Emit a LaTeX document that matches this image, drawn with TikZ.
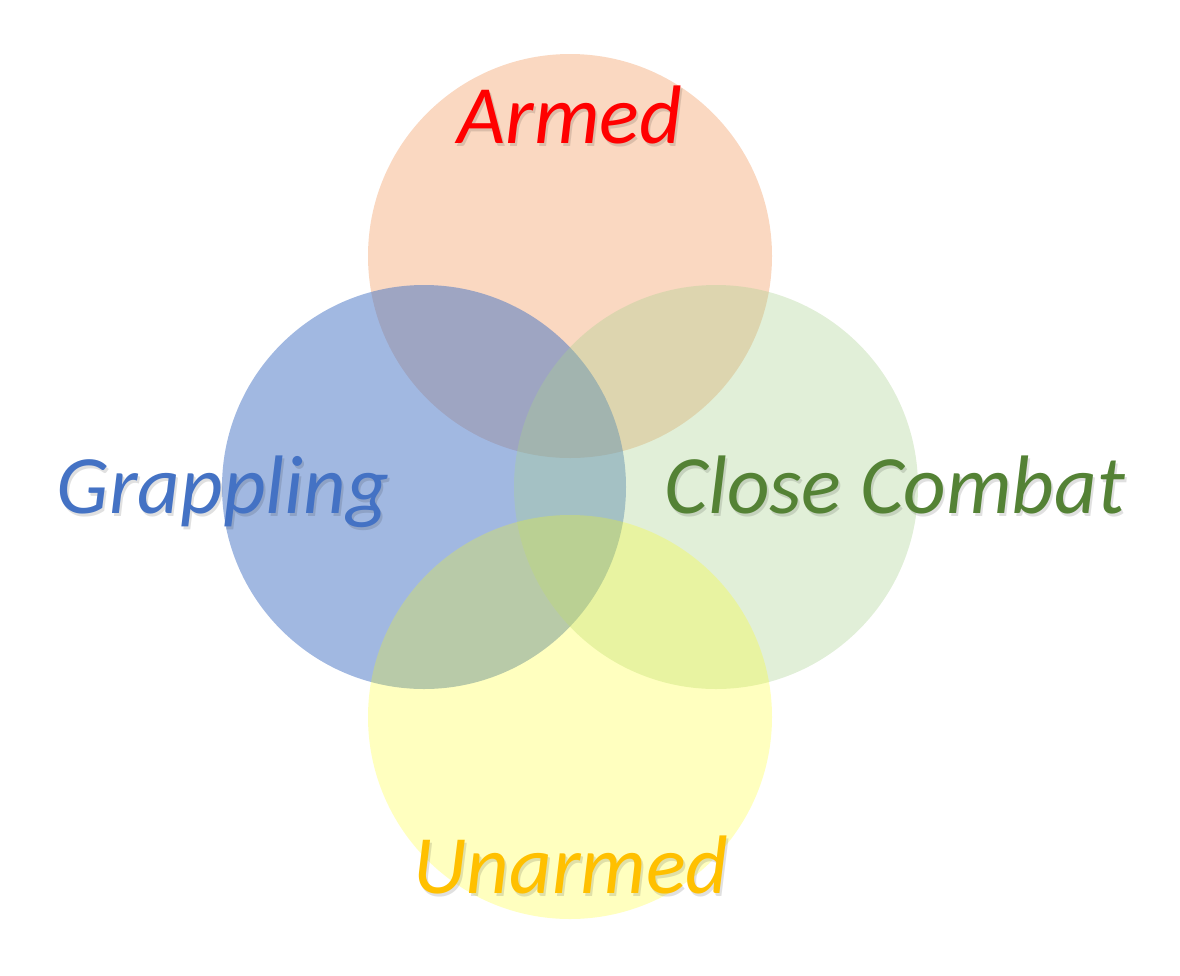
\documentclass[tikz,border=0pt]{standalone}
\usepackage{fontspec}
\setmainfont{Carlito}
\tikzset{
  label text/.style = {font = \fontsize{83}{95}\selectfont\itshape, anchor = base, inner sep = 0pt},
  label shadow/.style = {label text, text = black, opacity = 0.12}
}
\begin{document}
\begin{tikzpicture}[x = 1pt, y = -1pt]
\useasboundingbox (0, 0) rectangle (1180, 975);
% circles
\definecolor{col}{HTML}{ED7D31}
\fill[col, opacity = 0.3] (570, 256) circle (202);
\definecolor{col}{HTML}{4472C4}
\fill[col, opacity = 0.5] (424, 487) circle (202);
\definecolor{col}{HTML}{A9D18E}
\fill[col, opacity = 0.35] (716, 487) circle (202);
\definecolor{col}{HTML}{FFFF00}
\fill[col, opacity = 0.25] (570, 717) circle (202);
% labels
\node[label shadow] at (572, 146) {Armed};
\node[label text, text = red] (armed) at (570, 143) {Armed};
\node[label shadow] at (225, 516) {Grappling};
\definecolor{col}{HTML}{4472C4}
\node[label text, text = col] (grappling) at (223, 513) {Grappling};
\node[label shadow] at (897, 516) {Close Combat};
\definecolor{col}{HTML}{548235}
\node[label text, text = col] (closecombat) at (895, 513) {Close Combat};
\node[label shadow] at (573, 896) {Unarmed};
\definecolor{col}{HTML}{FFC000}
\node[label text, text = col] (unarmed) at (571, 893) {Unarmed};
\end{tikzpicture}
\end{document}
